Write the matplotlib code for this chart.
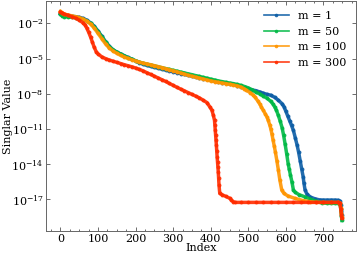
import numpy as np
import matplotlib
matplotlib.use("Agg")
from matplotlib import pyplot as plt
from matplotlib.ticker import AutoMinorLocator, NullLocator

# singular values, stored as log10 exponents
idx_m1 = [0, 5, 10, 20, 30, 40, 50, 60, 70, 80, 90, 100, 110, 120, 130, 140,
          150, 160, 170, 180, 190, 200, 210, 220, 230, 240, 250, 260, 270, 280,
          290, 300, 310, 320, 330, 340, 350, 360, 370, 380, 390, 400, 410, 420,
          430, 440, 450, 460, 470, 480, 490, 500, 510, 520, 530, 540, 550, 560,
          570, 580, 590, 595, 600, 605, 610, 615, 620, 625, 630, 634, 638, 642,
          646, 648, 651, 656, 665, 677, 690, 700, 710, 720, 730, 740, 744, 746,
          748, 749]
log_m1 = [-1.18, -1.3, -1.35, -1.38, -1.4, -1.42, -1.48, -1.57, -1.72, -1.95,
          -2.25, -2.65, -3.1, -3.55, -3.95, -4.25, -4.45, -4.6, -4.75, -4.9,
          -5.05, -5.2, -5.35, -5.48, -5.58, -5.66, -5.74, -5.82, -5.9, -5.98,
          -6.05, -6.12, -6.2, -6.28, -6.35, -6.42, -6.5, -6.57, -6.63, -6.7,
          -6.77, -6.85, -6.92, -6.98, -7.04, -7.1, -7.15, -7.2, -7.3, -7.4,
          -7.5, -7.6, -7.67, -7.73, -7.84, -7.95, -8.05, -8.12, -8.3, -8.55,
          -8.85, -9.1, -9.5, -9.9, -10.3, -10.7, -11.12, -11.75, -12.4, -13.0,
          -13.7, -14.4, -15.08, -15.6, -16.2, -16.55, -16.8, -16.95, -17.05,
          -17.06, -17.06, -17.06, -17.06, -17.08, -17.15, -17.5, -18.0, -18.3]

idx_m50 = [0, 5, 10, 20, 30, 40, 50, 60, 70, 80, 90, 100, 110, 120, 130, 140,
           150, 160, 170, 180, 190, 200, 210, 220, 230, 240, 250, 260, 270, 280,
           290, 300, 310, 320, 330, 340, 350, 360, 370, 380, 390, 400, 410, 420,
           430, 440, 450, 460, 470, 480, 490, 500, 510, 520, 530, 540, 550, 560,
           565, 570, 575, 580, 585, 590, 594, 598, 602, 606, 609, 612, 616, 620,
           625, 635, 650, 665, 680, 695, 710, 720, 730, 740, 744, 746, 748, 749]
log_m50 = [-1.2, -1.35, -1.42, -1.45, -1.47, -1.5, -1.55, -1.63, -1.78, -2.0,
           -2.3, -2.7, -3.15, -3.6, -3.98, -4.25, -4.45, -4.62, -4.78, -4.92,
           -5.05, -5.18, -5.3, -5.4, -5.48, -5.55, -5.62, -5.7, -5.78, -5.85,
           -5.92, -6.0, -6.07, -6.15, -6.22, -6.3, -6.37, -6.45, -6.52, -6.6,
           -6.67, -6.75, -6.82, -6.9, -6.96, -7.02, -7.08, -7.13, -7.2, -7.28,
           -7.38, -7.5, -7.65, -7.86, -8.0, -8.2, -8.38, -8.65, -8.85, -9.1,
           -9.42, -9.85, -10.35, -10.9, -11.55, -12.3, -13.1, -13.95, -14.45,
           -14.9, -15.5, -16.2, -16.4, -16.6, -16.78, -16.98, -17.15, -17.3,
           -17.34, -17.34, -17.34, -17.35, -17.4, -17.8, -18.4, -18.8]

idx_m100 = [0, 5, 10, 20, 30, 40, 50, 60, 70, 80, 90, 100, 110, 120, 130, 140,
            150, 160, 170, 180, 190, 200, 210, 220, 230, 240, 250, 260, 270,
            280, 290, 300, 310, 320, 330, 340, 350, 360, 370, 380, 390, 400,
            410, 420, 430, 440, 450, 460, 470, 480, 488, 495, 505, 512, 518,
            525, 530, 535, 540, 545, 550, 553, 557, 560, 563, 566, 569, 572,
            576, 580, 584, 589, 595, 605, 624, 645, 664, 680, 700, 720, 740,
            744, 746, 748, 749]
log_m100 = [-0.98, -1.1, -1.2, -1.28, -1.35, -1.42, -1.5, -1.62, -1.8, -2.05,
            -2.4, -2.85, -3.3, -3.75, -4.1, -4.35, -4.55, -4.72, -4.86, -4.98,
            -5.1, -5.2, -5.3, -5.38, -5.45, -5.52, -5.6, -5.68, -5.76, -5.85,
            -5.94, -6.03, -6.12, -6.22, -6.32, -6.42, -6.5, -6.58, -6.66,
            -6.74, -6.82, -6.9, -6.96, -7.02, -7.08, -7.13, -7.19, -7.25,
            -7.32, -7.42, -7.55, -7.7, -7.9, -8.08, -8.29, -8.6, -8.85, -9.14,
            -9.42, -9.7, -10.0, -10.27, -10.65, -11.0, -11.45, -11.97, -12.45,
            -12.95, -13.7, -14.5, -15.36, -16.21, -16.5, -16.7, -16.92, -17.1,
            -17.2, -17.25, -17.26, -17.26, -17.26, -17.3, -17.7, -18.2, -18.5]

idx_m300 = [0, 5, 10, 20, 30, 40, 50, 60, 65, 70, 75, 80, 85, 90, 95, 100,
            110, 120, 130, 140, 150, 160, 170, 180, 190, 200, 210, 220, 230,
            240, 250, 260, 270, 280, 290, 300, 310, 320, 330, 340, 350, 360,
            370, 380, 390, 398, 403, 407, 410, 411, 412, 413, 414, 415, 416,
            417, 418, 419, 420, 421, 422, 424, 430, 440, 450, 455, 460, 465,
            480, 500, 520, 540, 560, 580, 600, 620, 640, 660, 680, 700, 720,
            740, 744, 746, 748, 749]
log_m300 = [-1.03, -1.1, -1.2, -1.3, -1.42, -1.55, -1.72, -1.95, -2.1, -2.4,
            -2.75, -3.15, -3.6, -4.05, -4.4, -4.6, -4.85, -5.0, -5.12, -5.22,
            -5.32, -5.42, -5.52, -5.61, -5.7, -5.8, -5.92, -6.05, -6.2, -6.35,
            -6.5, -6.65, -6.8, -6.95, -7.12, -7.28, -7.45, -7.6, -7.75, -7.9,
            -8.05, -8.2, -8.35, -8.55, -8.75, -9.14, -9.4, -9.84, -10.27,
            -10.69, -11.12, -11.54, -11.97, -12.39, -12.9, -13.38, -13.81,
            -14.23, -14.66, -15.22, -15.79, -16.5, -16.6, -16.75, -16.9, -17.05,
            -17.2, -17.26, -17.26, -17.26, -17.26, -17.26, -17.26, -17.26,
            -17.26, -17.26, -17.26, -17.26, -17.26, -17.26, -17.26, -17.26,
            -17.35, -17.8, -18.3, -18.6]

series = [
    ("m = 1", idx_m1, log_m1, "#0C5DA5"),
    ("m = 50", idx_m50, log_m50, "#00B945"),
    ("m = 100", idx_m100, log_m100, "#FF9500"),
    ("m = 300", idx_m300, log_m300, "#FF2C00"),
]
ytick_exps = [-2, -5, -8, -11, -14, -17]

plt.rcParams["font.family"] = "DejaVu Serif"
plt.rcParams["mathtext.fontset"] = "dejavuserif"
plt.rcParams["font.size"] = 8

fig = plt.figure(figsize=(3.57, 2.56), dpi=100)
ax = fig.add_axes([0.13, 0.098, 0.867, 0.898])

for label, idx, logv, color in series:
    ax.plot(idx, 10.0 ** np.asarray(logv), color=color, lw=2.5,
            alpha=0.9, marker="o", ms=2.8, mew=0, label=label)

ax.set_yscale("log")
ax.margins(x=0.05, y=0.05)
ax.set_yticks([10.0 ** e for e in ytick_exps])
ax.yaxis.set_minor_locator(NullLocator())
ax.xaxis.set_minor_locator(AutoMinorLocator(4))
ax.set_xticks(range(0, 701, 100))

ax.tick_params(which="both", direction="in", top=True, right=True,
               width=0.6, color="#555555", pad=2)
ax.tick_params(which="major", length=3)
ax.tick_params(which="minor", length=1.5)
for sp in ax.spines.values():
    sp.set_linewidth(0.7)
    sp.set_color("#666666")

ax.set_xlabel("Index", labelpad=-0.5)
ax.set_ylabel("Singlar Value", labelpad=-1)
leg = ax.legend(loc="upper right", frameon=False, handlelength=2.2,
                borderaxespad=0.5, labelspacing=0.5, handletextpad=0.8)
for h in leg.get_lines():
    h.set_linewidth(1.2)
    h.set_markersize(2.6)

fig.savefig("out.png", dpi=100)
